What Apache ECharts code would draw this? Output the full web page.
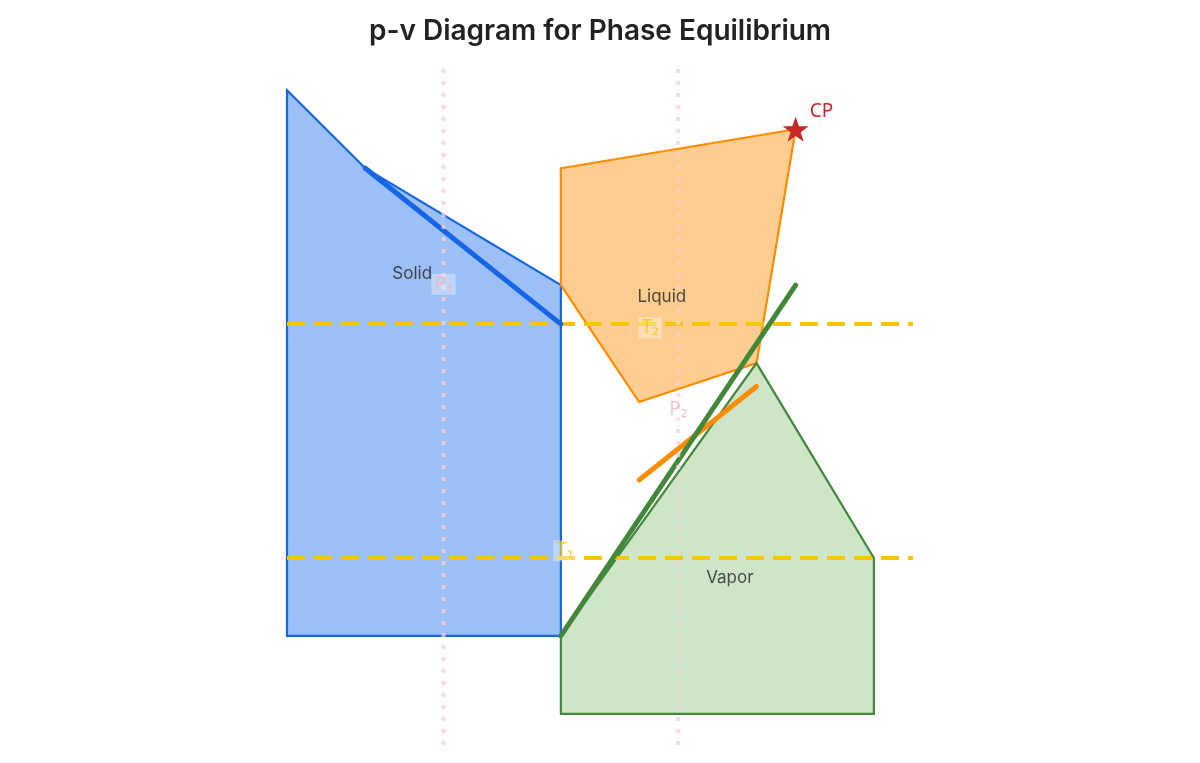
<!DOCTYPE html>
<html><head><meta charset="utf-8">
<script src="https://cdn.jsdelivr.net/npm/echarts@6/dist/echarts.min.js"></script>
<style>html,body{margin:0;padding:0;background:#fff}#c{width:1200px;height:763px}</style>
</head><body><div id="c"></div>
<script>
// Phase regions (v, p) in diagram units
const solidRegion  = [[0, 9], [1, 8], [3.5, 6.5], [3.5, 2], [0, 2]];
const liquidRegion = [[3.5, 8], [6.5, 8.5], [6, 5.5], [4.5, 5], [3.5, 6.5]];
const vaporRegion  = [[3.5, 2], [6, 5.5], [7.5, 3], [7.5, 1], [3.5, 1]];
// Coexistence lines
const solidLiquidLine = [[1, 8], [3.5, 6]];
const liquidVaporLine = [[4.5, 4], [6, 5.2]];
const solidVaporLine  = [[3.5, 2], [6.5, 6.5]];
// Critical point
const criticalPoint = [6.5, 8.5];
// Isotherms (p levels) and isobars (v positions)
const isothermNames = ['T₁', 'T₂'];
const isothermLevels = [3, 6];
const isothermLabelAt = [[3.55, 3.09], [4.64, 5.95]];
const isobarNames = ['P₁', 'P₂'];
const isobarPositions = [2, 5];
const isobarLabelAt = [[2.0, 6.51], [5.0, 4.9]];
// Region labels
const regionNames = ['Solid', 'Liquid', 'Vapor'];
const regionLabelAt = [[1.6, 6.65], [4.79, 6.35], [5.66, 2.74]];

const X_MIN = 0, X_MAX = 8, Y_MIN = 0.6, Y_MAX = 9.35;
const FONT = 'Inter, "Noto Sans", sans-serif';
const SUBFONT = '"Noto Sans", "DejaVu Sans", sans-serif';

function polygon(name, pts, fill, stroke, z) {
  return {
    type: 'custom', name, coordinateSystem: 'cartesian2d', z, silent: true,
    data: [pts[0]],
    renderItem: (params, api) => ({
      type: 'polygon',
      shape: { points: pts.map(p => api.coord(p)) },
      style: { fill, stroke, lineWidth: 2.2, lineJoin: 'miter' }
    })
  };
}
function seg(name, pts, color, width, type, z) {
  return {
    type: 'line', name, data: pts, symbol: 'none', z, silent: true,
    lineStyle: { color, width, type: type || 'solid', cap: type ? 'butt' : 'round' }
  };
}

const series = [
  polygon('Solid', solidRegion, 'rgba(30,110,235,0.44)', '#1565e6', 1),
  polygon('Liquid', liquidRegion, 'rgba(255,150,20,0.48)', '#ff8c00', 1),
  polygon('Vapor', vaporRegion, 'rgba(110,180,95,0.34)', '#43883a', 1),
];
isothermLevels.forEach((y, i) => {
  series.push(seg(isothermNames[i], [[X_MIN, y], [X_MAX, y]], '#f7c600', 4, [18, 9], 3));
});
series.push(seg('Solid-Liquid', solidLiquidLine, '#1565e6', 5, null, 4));
series.push(seg('Liquid-Vapor', liquidVaporLine, '#ff8c00', 5, null, 4));
series.push(seg('Solid-Vapor', solidVaporLine, '#43883a', 5, null, 5));
isobarPositions.forEach((x, i) => {
  series.push(seg(isobarNames[i], [[x, Y_MIN], [x, Y_MAX]], 'rgba(246,208,213,0.8)', 4, [4, 8], 6));
});
series.push({
  type: 'scatter', name: 'CP', z: 7, data: [criticalPoint],
  symbol: 'path://M12,0 L14.9,8.1 L23.4,8.1 L16.5,13.1 L19.1,21.3 L12,16.3 L4.9,21.3 L7.5,13.1 L0.6,8.1 L9.1,8.1 Z',
  symbolSize: [26, 25],
  itemStyle: { color: '#c62828', opacity: 1 },
  label: { show: true, formatter: 'CP', position: 'right', offset: [-4, -18], color: '#c62828', fontSize: 19, fontFamily: SUBFONT }
});
series.push({
  type: 'scatter', name: 'regionLabels', z: 8, symbolSize: 0, silent: true,
  data: regionNames.map((n, i) => ({ value: regionLabelAt[i], name: n })),
  label: { show: true, position: 'inside', formatter: '{b}', color: '#222', fontSize: 17, fontFamily: FONT }
});
series.push({
  type: 'scatter', name: 'lineLabels', z: 9, symbolSize: 0, silent: true,
  data: isothermNames.map((n, i) => ({ value: isothermLabelAt[i], name: n, label: { color: '#f7c600' } }))
    .concat(isobarNames.map((n, i) => ({ value: isobarLabelAt[i], name: n, label: { color: '#f0b4bd' } }))),
  label: { show: true, position: 'inside', formatter: '{b}', fontSize: 19, fontFamily: SUBFONT,
    backgroundColor: 'rgba(255,255,255,0.45)', padding: [1, 3] }
});

const chart = echarts.init(document.getElementById('c'));
chart.setOption({
  animation: false,
  backgroundColor: '#fff',
  title: { text: 'p-v Diagram for Phase Equilibrium', left: 'center', top: 13,
    textStyle: { fontSize: 28, fontWeight: 600, color: '#222', fontFamily: FONT } },
  grid: { left: 287, right: 287, top: 63, bottom: 18 },
  xAxis: { type: 'value', min: X_MIN, max: X_MAX, show: false, splitLine: { show: false } },
  yAxis: { type: 'value', min: Y_MIN, max: Y_MAX, show: false, splitLine: { show: false } },
  series
});
</script></body></html>
